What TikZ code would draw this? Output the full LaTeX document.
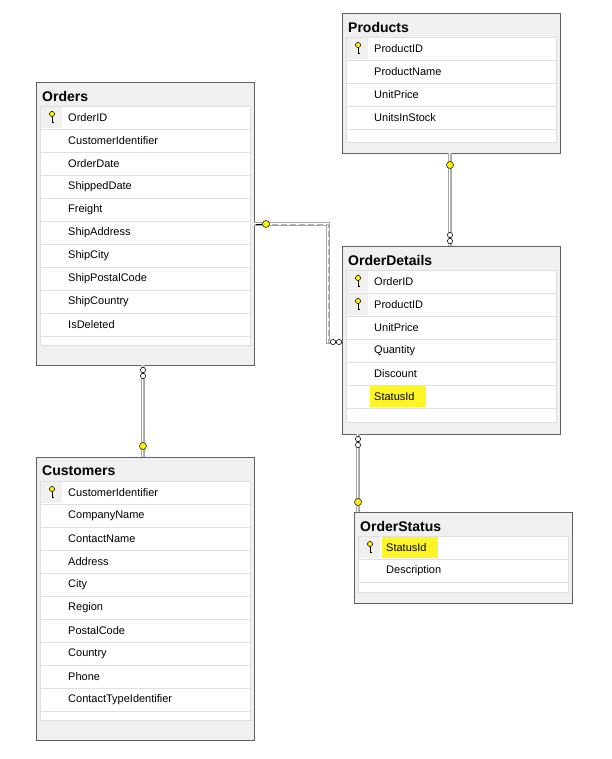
\documentclass[tikz,border=0pt]{standalone}
\usepackage{fontspec}
\setmainfont{Liberation Sans}
\usetikzlibrary{positioning}

\tikzset{
  tblbox/.style={draw=gray!75!black, fill=gray!12, line width=0.9pt, anchor=north west,
    inner sep=0pt, minimum width=218pt},
  tbltitle/.style={anchor=west, inner sep=0pt, font=\fontsize{14}{16}\selectfont\bfseries},
  field/.style={anchor=west, inner sep=0pt, font=\fontsize{11}{13}\selectfont},
  rowline/.style={draw=gray!25, line width=0.6pt},
  link/.style={draw=gray!70, double=white, double distance=2.4pt, line width=0.9pt},
  linkmid/.style={draw=gray!60, line width=0.8pt},
  keytip/.style={draw=black, fill=yellow, line width=0.5pt},
  manytip/.style={draw=black, fill=white, line width=0.5pt}
}

% name, x, y, title, outer height, inner height, rows (key/highlight/text)
\newcommand\erdtable[7]{%
  \begin{scope}[shift={(#2,#3)}]
    \node[tblbox, minimum height=#5] (#1) at (0,0) {};
    \node[tbltitle] (#1-title) at (6,14) {#4};
    \fill[white] (4,24) rectangle (214,#6);
    \draw[rowline] (4,24) rectangle (214,#6);
    \foreach [count=\i] \k/\h/\t in {#7} {
      \pgfmathsetmacro\yy{24+23*(\i-1)}
      \draw[rowline] (4,\yy+23) -- (214,\yy+23);
      \ifnum\k=1
        \fill[gray!12] (5,\yy+1) rectangle (26,\yy+22);
        \draw[keytip] (16,\yy+8) circle (2.6pt);
        \draw[black, line width=0.8pt] (16,\yy+10.6) -- (16,\yy+16) -- (18,\yy+16);
      \fi
      \ifnum\h=1
        \fill[yellow!85!white] (28,\yy+1) rectangle (84,\yy+22);
      \fi
      \node[field] (#1-\i) at (32,\yy+11.5) {\t};
    }
  \end{scope}}

\newcommand\keyend[2]{\draw[keytip] (#1,#2) circle (3.5pt);}
\newcommand\manyend[2]{\draw[manytip] (#1,#2) circle (2.6pt);}

\begin{document}
\begin{tikzpicture}[x=1pt, y=-1pt]
  \useasboundingbox (0,0) rectangle (611,759);

  % tables
  \erdtable{orders}{36}{82}{Orders}{283}{263}{1/0/OrderID, 0/0/CustomerIdentifier,
    0/0/OrderDate, 0/0/ShippedDate, 0/0/Freight, 0/0/ShipAddress, 0/0/ShipCity,
    0/0/ShipPostalCode, 0/0/ShipCountry, 0/0/IsDeleted}
  \erdtable{products}{342}{13}{Products}{140}{129}{1/0/ProductID, 0/0/ProductName,
    0/0/UnitPrice, 0/0/UnitsInStock}
  \erdtable{details}{342}{246}{OrderDetails}{188}{176}{1/0/OrderID, 1/0/ProductID,
    0/0/UnitPrice, 0/0/Quantity, 0/0/Discount, 0/1/StatusId}
  \erdtable{customers}{36}{457}{Customers}{283}{263}{1/0/CustomerIdentifier,
    0/0/CompanyName, 0/0/ContactName, 0/0/Address, 0/0/City, 0/0/Region,
    0/0/PostalCode, 0/0/Country, 0/0/Phone, 0/0/ContactTypeIdentifier}
  \erdtable{status}{354}{512}{OrderStatus}{91}{80}{1/1/StatusId, 0/0/Description}

  % link end points
  \coordinate (oc-a) at (143,365);  \coordinate (oc-b) at (143,457);
  \coordinate (pd-a) at (450,153);  \coordinate (pd-b) at (450,246);
  \coordinate (ds-a) at (358,434);  \coordinate (ds-b) at (358,512);
  \coordinate (od-a) at (254,224);  \coordinate (od-m1) at (328,224);
  \coordinate (od-m2) at (328,342); \coordinate (od-b) at (342,342);

  % links
  \draw[link] (oc-a) -- (oc-b);
  \draw[linkmid] (oc-a) -- (oc-b);
  \draw[link] (pd-a) -- (pd-b);
  \draw[linkmid] (pd-a) -- (pd-b);
  \draw[link] (ds-a) -- (ds-b);
  \draw[linkmid] (ds-a) -- (ds-b);
  \draw[link] (od-a) -- (od-m1) -- (od-m2) -- (od-b);
  \draw[linkmid, dashed, dash pattern=on 6pt off 3pt] (od-a) -- (od-m1) -- (od-m2) -- (od-b);

  % ends
  \manyend{143}{370} \manyend{143}{376}
  \keyend{143}{446}
  \keyend{450}{165}
  \manyend{450}{235} \manyend{450}{241}
  \manyend{358}{439} \manyend{358}{445}
  \keyend{358}{502}
  \keyend{266}{224}
  \draw[black, line width=0.8pt] (256,224) -- (262,224);
  \manyend{333}{342} \manyend{339}{342}
\end{tikzpicture}
\end{document}
